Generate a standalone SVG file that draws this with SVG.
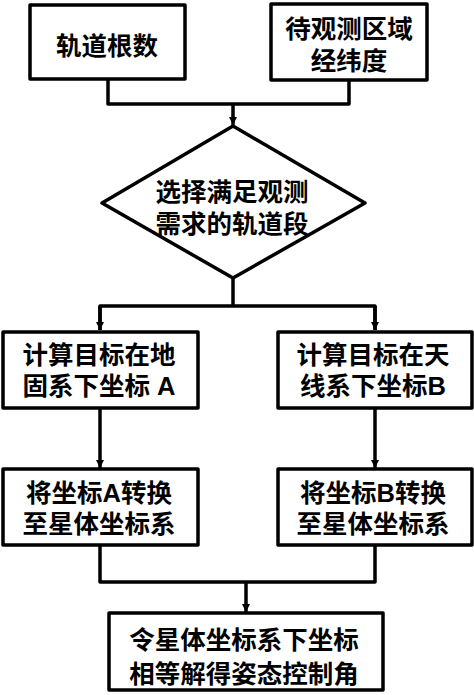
<svg xmlns="http://www.w3.org/2000/svg" width="474" height="695" viewBox="0 0 474 695">
<defs>
<style>
.box{fill:#fff;stroke:#000;stroke-width:3.5;stroke-linejoin:round}
.ln{fill:none;stroke:#000;stroke-width:3.5;stroke-linejoin:round}
.t{font-family:"Liberation Sans","Noto Sans CJK SC","Noto Sans CJK JP",sans-serif;font-weight:bold;font-size:25.5px;fill:#000;text-anchor:middle;dominant-baseline:central}
</style>
<marker id="arr" markerUnits="userSpaceOnUse" markerWidth="10" markerHeight="10" viewBox="0 0 10 10" refX="9" refY="5" orient="auto">
<path d="M1,1 L9,5 L1,9 Z" fill="#000"/>
</marker>
</defs>
<rect width="474" height="695" fill="#fff"/>
<g id="connectors">
<path class="ln" d="M108,79 V104 H349 V80"/>
<path class="ln" d="M233,104 V125" marker-end="url(#arr)"/>
<path class="ln" d="M233,277 V306"/>
<path class="ln" d="M100,330 V306 H375 V330"/>
<path class="ln" d="M100,306 V330" marker-end="url(#arr)"/>
<path class="ln" d="M375,306 V330" marker-end="url(#arr)"/>
<path class="ln" d="M100,408 V468" marker-end="url(#arr)"/>
<path class="ln" d="M375,408 V468" marker-end="url(#arr)"/>
<path class="ln" d="M100,545 V582 H375 V545"/>
<path class="ln" d="M246,582 V612" marker-end="url(#arr)"/>
</g>
<g id="n1">
<rect class="box" x="30" y="5" width="155" height="74"/>
<text class="t" x="107" y="46">轨道根数</text>
</g>
<g id="n2">
<rect class="box" x="271" y="4" width="156" height="76"/>
<text class="t" x="349" y="29">待观测区域</text>
<text class="t" x="349" y="61">经纬度</text>
</g>
<g id="n3">
<polygon class="box" points="233,126 365,203 233,278 102,203"/>
<text class="t" x="232" y="192">选择满足观测</text>
<text class="t" x="232" y="224">需求的轨道段</text>
</g>
<g id="n4">
<rect class="box" x="3" y="332" width="195" height="76"/>
<text class="t" x="99" y="355">计算目标在地</text>
<text class="t" x="99" y="386">固系下坐标 A</text>
</g>
<g id="n5">
<rect class="box" x="278" y="332" width="194" height="76"/>
<text class="t" x="373" y="355">计算目标在天</text>
<text class="t" x="373" y="386">线系下坐标B</text>
</g>
<g id="n6">
<rect class="box" x="3" y="469" width="195" height="76"/>
<text class="t" x="99" y="493">将坐标A转换</text>
<text class="t" x="99" y="524">至星体坐标系</text>
</g>
<g id="n7">
<rect class="box" x="278" y="469" width="194" height="76"/>
<text class="t" x="373" y="493">将坐标B转换</text>
<text class="t" x="373" y="524">至星体坐标系</text>
</g>
<g id="n8">
<rect class="box" x="109" y="613" width="274" height="77"/>
<text class="t" x="244" y="640">令星体坐标系下坐标</text>
<text class="t" x="244" y="674">相等解得姿态控制角</text>
</g>
</svg>
